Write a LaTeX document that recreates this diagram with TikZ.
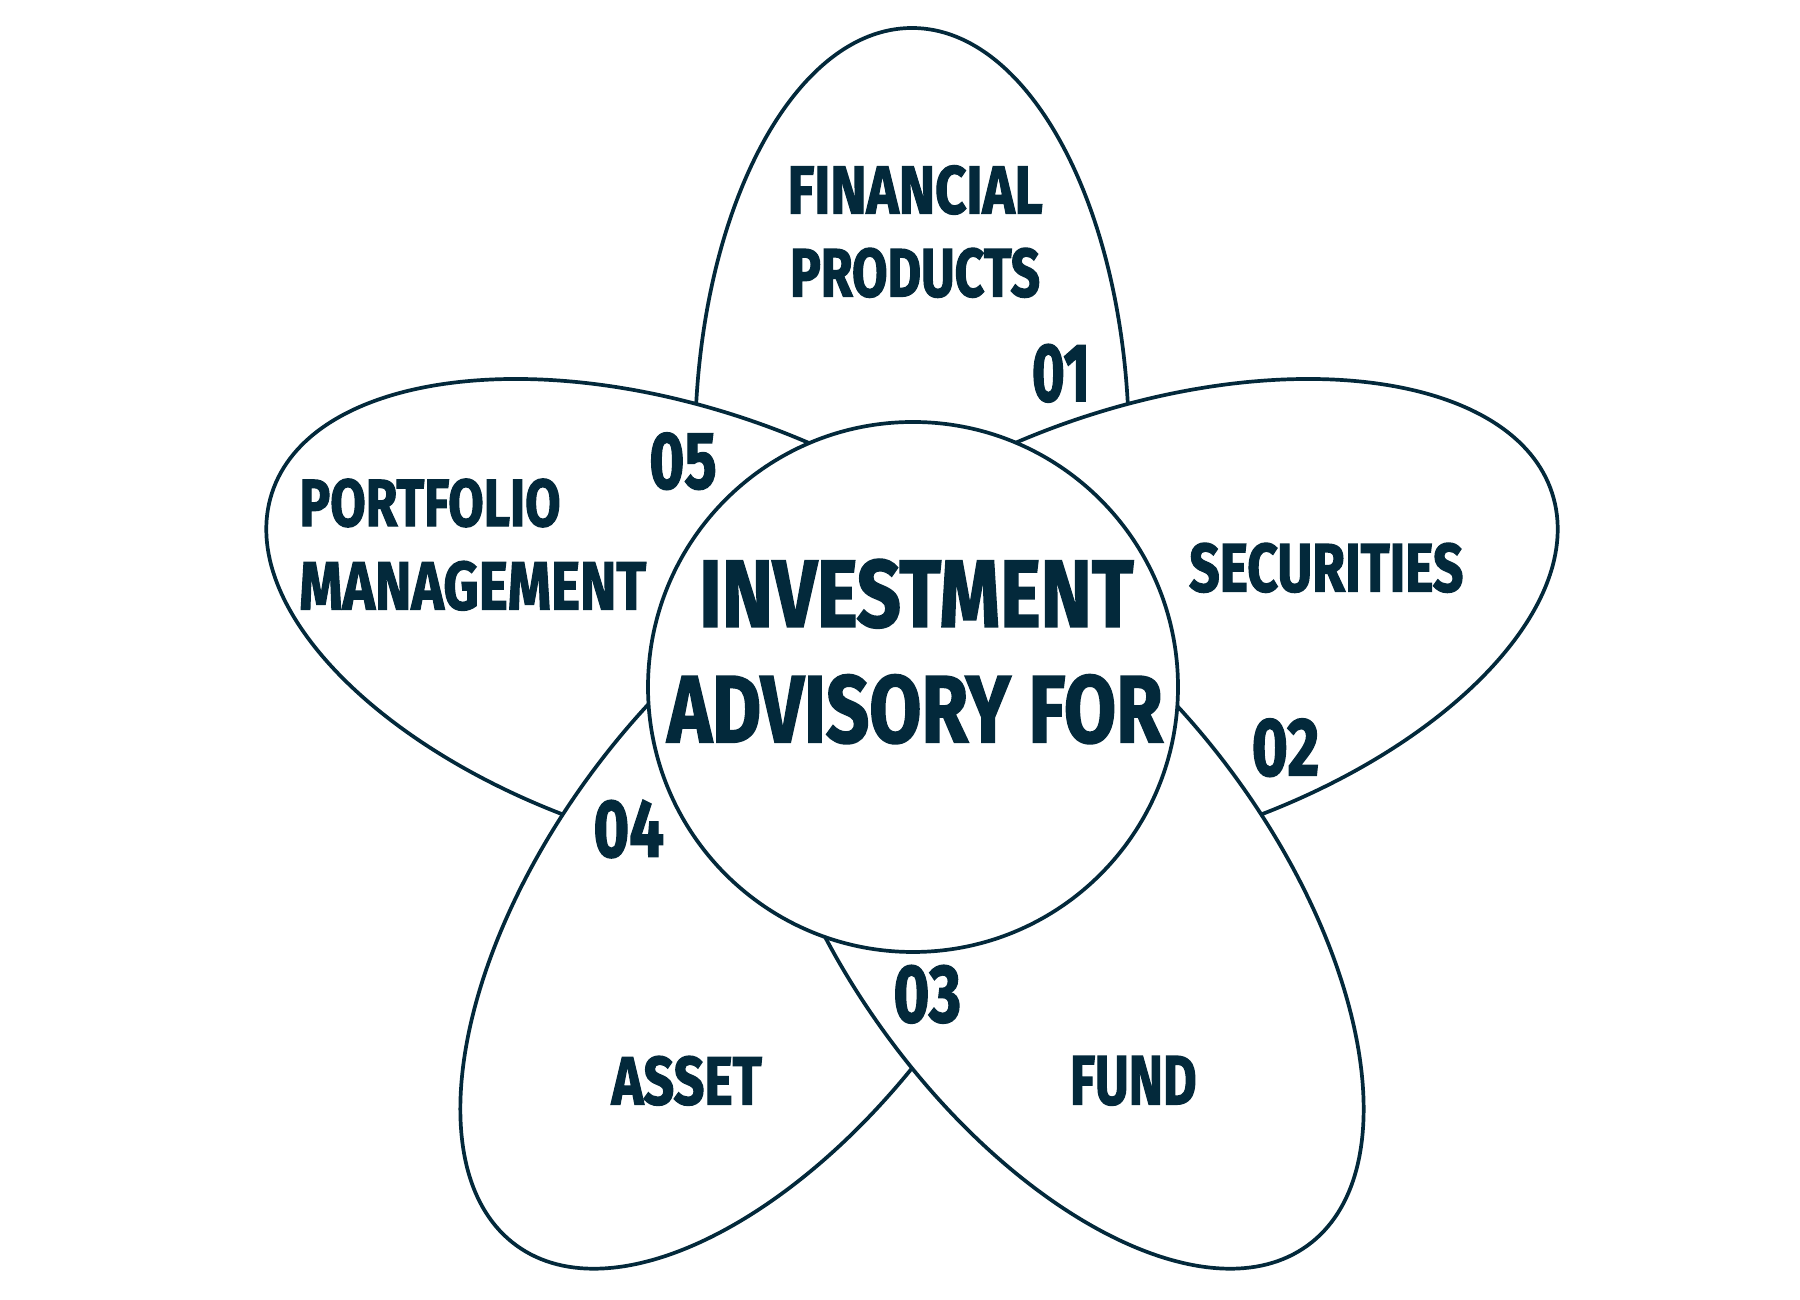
\documentclass[tikz,border=0pt]{standalone}
\usepackage{fontspec}
\setmainfont{Fira Sans}[BoldFeatures={FakeBold=2}]
\usepackage{graphicx}
\definecolor{navy}{RGB}{3,41,59}
\tikzset{
  petal/.style={draw=navy, line width=3.7pt, fill=white},
  hub/.style={circle, draw=navy, line width=3.7pt, fill=white, minimum size=530pt, inner sep=0pt},
  lbl/.style={inner sep=0pt, outer sep=0pt, text=navy, font=\bfseries},
}
\newcommand{\fitlbl}[3]{\resizebox{#1pt}{#2pt}{#3}}
\begin{document}
\begin{tikzpicture}[x=1pt,y=1pt]
\useasboundingbox (0,0) rectangle (1800,1300);
\coordinate (C) at (912,599);
% petals, bottom to top: 01, 02, 05, 04, 03
\foreach \r in {0,-72,72,144,-144} {
  \begin{scope}[shift={(C)}, rotate=\r]
    \draw[petal] (0,253) ellipse [x radius=217pt, y radius=420pt];
  \end{scope}
}
\node[hub] (hub) at (913,613) {};
% centre text
\node[lbl] (inv) at (916.3,706.3) {\fitlbl{434}{67.3}{INVESTMENT}};
\node[lbl] (adv) at (915,590.8) {\fitlbl{495.3}{67.5}{ADVISORY FOR}};
% petal 01
\node[lbl] (fin) at (915.2,1110) {\fitlbl{255}{48}{FINANCIAL}};
\node[lbl] (prod) at (915,1027.2) {\fitlbl{250}{48.5}{PRODUCTS}};
\node[lbl] (n1) at (1060.8,926.7) {\fitlbl{58}{56.7}{01}};
% petal 02
\node[lbl] (sec) at (1326.3,732.2) {\fitlbl{274}{48.5}{SECURITIES}};
\node[lbl] (n2) at (1285.5,552.3) {\fitlbl{67.6}{56.7}{02}};
% petal 03
\node[lbl] (n3) at (927.2,305.7) {\fitlbl{67.7}{56.7}{03}};
\node[lbl] (fund) at (1133.3,219.2) {\fitlbl{126.7}{48.3}{FUND}};
% petal 04
\node[lbl] (n4) at (628.7,471) {\fitlbl{70.7}{56.6}{04}};
\node[lbl] (asset) at (686.7,219.2) {\fitlbl{150}{48.3}{ASSET}};
% petal 05
\node[lbl] (port) at (430,797) {\fitlbl{261}{47.3}{PORTFOLIO}};
\node[lbl] (mgmt) at (472.7,714.2) {\fitlbl{346.7}{48.3}{MANAGEMENT}};
\node[lbl] (n5) at (683,838.8) {\fitlbl{67.4}{55.7}{05}};
\end{tikzpicture}
\end{document}
